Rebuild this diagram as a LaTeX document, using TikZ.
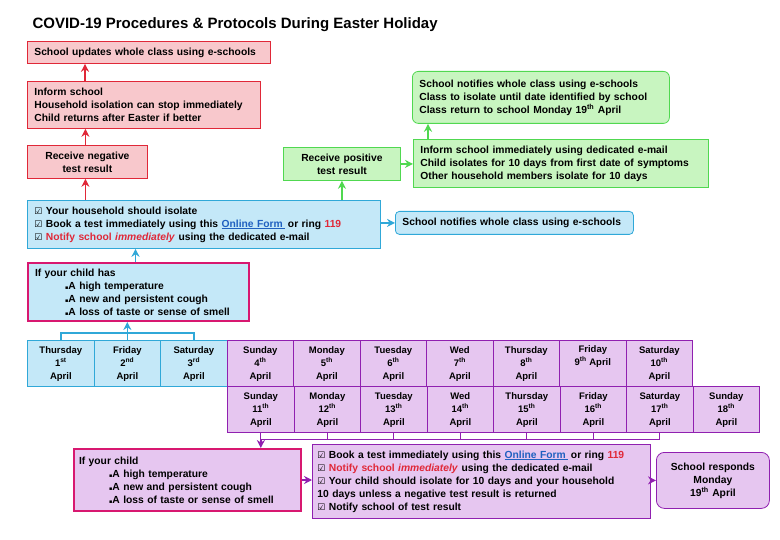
\documentclass[tikz,border=0pt]{standalone}
\usepackage{fontspec}
\setmainfont{Liberation Sans}
\newfontfamily\symf{DejaVu Sans}
\usepackage{tikz}
\usetikzlibrary{arrows.meta}
\definecolor{rfill}{HTML}{F8C8CC}\definecolor{rline}{HTML}{E02838}
\definecolor{gfill}{HTML}{C8F5C0}\definecolor{gline}{HTML}{50D850}
\definecolor{cfill}{HTML}{C4E8F8}\definecolor{cline}{HTML}{30A8D8}
\definecolor{pfill}{HTML}{E6C6F0}\definecolor{pline}{HTML}{9020B0}
\definecolor{mline}{HTML}{D81870}\definecolor{lnk}{HTML}{2060C0}
\tikzset{
    box/.style={draw, anchor=north west, align=left, inner xsep=7pt, inner ysep=2pt, line width=0.8pt}, % general box
    redbox/.style={box, fill=rfill, draw=rline},
    greenbox/.style={box, fill=gfill, draw=gline},
    cyanbox/.style={box, fill=cfill, draw=cline},
    purplebox/.style={box, fill=pfill, draw=pline},
    cell/.style={draw, anchor=north west, align=center, inner sep=1pt, line width=1.2pt,
        minimum width=66.5, minimum height=46, font=\fontsize{9.5}{13}\selectfont\bfseries},
    arr/.style={-{Stealth[length=8pt,width=8pt]}, line width=1.6pt}
}
\newcommand{\ck}{{\symf\small ☑}}
\newcommand{\bl}{{\symf\tiny ▪}}
\newcommand{\sps}[1]{\textsuperscript{#1}}

\begin{document}
\begin{tikzpicture}[x=1pt, y=-1pt, font=\fontsize{10.3}{13}\selectfont\bfseries]
    \useasboundingbox (0,0) rectangle (780,540);
    \node[anchor=west, font=\fontsize{15}{16}\selectfont\bfseries] (title) at (29,25) {COVID-19 Procedures \& Protocols During Easter Holiday};

    % red branch
    \node[redbox, text width=229, minimum height=22] (upd) at (27,41) {School updates whole class using e-schools};
    \node[redbox, text width=219, minimum height=47] (infn) at (27,81) {Inform school\\Household isolation can stop immediately\\Child returns after Easter if better};
    \node[redbox, text width=106, minimum height=33, align=center] (neg) at (27,145) {Receive negative\\test result};

    % green branch
    \node[greenbox, text width=243, minimum height=52, rounded corners=6pt] (notg) at (412,71) {School notifies whole class using e-schools\\Class to isolate until date identified by school\\Class return to school Monday 19\sps{th} April};
    \node[greenbox, text width=281, minimum height=48] (infp) at (413,139) {Inform school immediately using dedicated e-mail\\Child isolates for 10 days from first date of symptoms\\Other household members isolate for 10 days};
    \node[greenbox, text width=103, minimum height=33, align=center] (pos) at (283,147) {Receive positive\\test result};

    % cyan branch
    \node[cyanbox, text width=339, minimum height=48] (act) at (27,200) {\ck\ Your household should isolate\\\ck\ Book a test immediately using this \textcolor{lnk}{\underline{Online Form\,}} or ring \textcolor{rline}{119}\\\ck\ \textcolor{rline}{Notify school \textit{immediately}} using the dedicated e-mail};
    \node[cyanbox, text width=224, minimum height=23, rounded corners=4pt] (notc) at (395,211) {School notifies whole class using e-schools};
    \node[box, fill=cfill, draw=mline, line width=2pt, text width=207, minimum height=58] (sym) at (27,262) {If your child has\\\hspace{30pt}\bl A high temperature\\\hspace{30pt}\bl A new and persistent cough\\\hspace{30pt}\bl A loss of taste or sense of smell};

    % calendar
    \foreach \i/\t in {1/{Thursday\\1\sps{st}\\April},2/{Friday\\2\sps{nd}\\April},3/{Saturday\\3\sps{rd}\\April}}
        \node[cell, fill=cfill, draw=cline] (c\i) at ({27+66.5*(\i-1)},340) {\t};
    \foreach \i/\t in {4/{Sunday\\4\sps{th}\\April},5/{Monday\\5\sps{th}\\April},6/{Tuesday\\6\sps{th}\\April},7/{Wed\\7\sps{th}\\April},8/{Thursday\\8\sps{th}\\April},9/{Friday\\9\sps{th} April\\\strut},10/{Saturday\\10\sps{th}\\April}}
        \node[cell, fill=pfill, draw=pline] (c\i) at ({27+66.5*(\i-1)},340) {\t};
    \foreach \i/\t in {1/{Sunday\\11\sps{th}\\April},2/{Monday\\12\sps{th}\\April},3/{Tuesday\\13\sps{th}\\April},4/{Wed\\14\sps{th}\\April},5/{Thursday\\15\sps{th}\\April},6/{Friday\\16\sps{th}\\April},7/{Saturday\\17\sps{th}\\April},8/{Sunday\\18\sps{th}\\April}}
        \node[cell, fill=pfill, draw=pline] (e\i) at ({227+66.5*(\i-1)},386) {\t};

    % bottom row
    \node[box, fill=pfill, draw=mline, line width=2pt, inner xsep=5pt, text width=217, minimum height=62] (child) at (73,448) {If your child\\\hspace{30pt}\bl A high temperature\\\hspace{30pt}\bl A new and persistent cough\\\hspace{30pt}\bl A loss of taste or sense of smell};
    \node[purplebox, inner xsep=5pt, text width=328, minimum height=74] (act2) at (312,444) {\ck\ Book a test immediately using this \textcolor{lnk}{\underline{Online Form\,}} or ring \textcolor{rline}{119}\\\ck\ \textcolor{rline}{Notify school \textit{immediately}} using the dedicated e-mail\\\ck\ Your child should isolate for 10 days and your household\\10 days unless a negative test result is returned\\\ck\ Notify school of test result};
    \node[purplebox, inner xsep=2pt, text width=109, minimum height=56, rounded corners=8pt, align=center] (resp) at (656,452) {School responds\\Monday\\19\sps{th} April};

    % connectors
    \draw[arr, rline] (infn.north west) ++(58,0) coordinate (r1) -- (r1 |- upd.south);
    \draw[arr, rline] (neg.north) ++(-2,0) coordinate (r2) -- (r2 |- infn.south);
    \draw[arr, rline] (act.north -| neg.south) ++(-2,0) coordinate (r3) -- (r3 |- neg.south);
    \draw[arr, gline] (act.north -| pos.south) -- (pos.south);
    \draw[arr, gline] (pos.east) -- (pos.east -| infp.west);
    \draw[arr, gline] (infp.north west) ++(15,0) coordinate (g1) -- (g1 |- notg.south);
    \draw[arr, cline] (act.east |- notc.west) -- (notc.west);
    \draw[arr, cline] (sym.north) ++(-3,0) coordinate (s1) -- (s1 |- act.south);
    \draw[cline, line width=1.4pt] (c1.north) -- ++(0,-7) -| (c3.north) (c2.north) -- ++(0,-7);
    \draw[arr, cline] (c2.north) ++(0,-7) coordinate (s2) -- (s2 |- sym.south);
    \draw[pline, line width=1pt] (e1.south) -- ++(0,6) -| (e7.south)
        \foreach \k in {2,...,6} {(e\k.south) -- ++(0,6)};
    \draw[arr, pline] (e1.south) ++(0,6) coordinate (p1) -- (p1 |- child.north);
    \draw[arr, pline] (child.east) -- (child.east -| act2.west);
    \draw[arr, pline] (act2.east |- resp.west) -- (resp.west);
\end{tikzpicture}
\end{document}
